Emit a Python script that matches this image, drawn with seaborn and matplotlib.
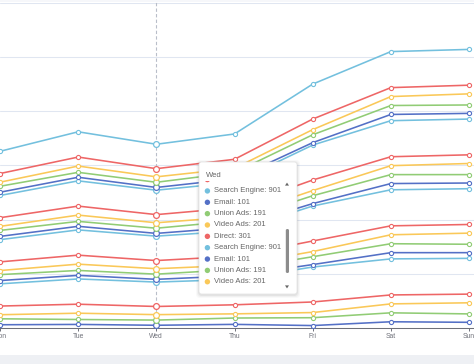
import numpy as np
import pandas as pd
import seaborn as sns
import matplotlib
matplotlib.use("Agg")
import matplotlib.pyplot as plt
from matplotlib.patches import FancyBboxPatch, Rectangle, Circle, Polygon
from matplotlib.transforms import Bbox

# ---------------- data ----------------
days = ["Mon", "Tue", "Wed", "Thu", "Fri", "Sat", "Sun"]
email = [120, 132, 101, 134, 90, 230, 210]
union_ads = [220, 182, 191, 234, 290, 330, 310]
video_ads = [150, 232, 201, 154, 190, 330, 410]
direct = [320, 332, 301, 334, 390, 330, 320]
search_engine = [820, 932, 901, 934, 1290, 1330, 1320]
series_names = ["Email", "Union Ads", "Video Ads", "Direct", "Search Engine"]
series_values = [email, union_ads, video_ads, direct, search_engine]
series_colors = ["#5470c6", "#91cc75", "#fac858", "#ee6666", "#73c0de"]
n_repeats = 4          # the five series appear four times, all stacked
hover_index = 2        # tooltip shown for "Wed"
y_ticks = [0, 2000, 4000, 6000, 8000, 10000, 12000]

# ---------------- figure ----------------
sns.set_theme(style="white")
plt.rcParams["font.family"] = ["Liberation Sans", "DejaVu Sans"]
W, H = 474, 364
fig = plt.figure(figsize=(W / 100, H / 100), dpi=100)
fig.patch.set_facecolor("white")

y_axis_px = 328.0
y_top_px = 2.8
ax = fig.add_axes([0, (H - y_axis_px) / H, 1, (y_axis_px - y_top_px) / H])
ax.set_facecolor("none")
step_px = 78.17
ax.set_xlim(0, W / step_px)
ax.set_ylim(0, 12000)

# stacked series
xs = np.arange(len(days))
cum = np.zeros(len(days))
z = 3
for r in range(n_repeats):
    for name, vals, col in zip(series_names, series_values, series_colors):
        cum = cum + np.array(vals)
        df = pd.DataFrame({"x": xs, "y": cum})
        sns.lineplot(data=df, x="x", y="y", ax=ax, color=col, lw=1.15,
                     marker="o", ms=3.0, mfc="white", mec=col, mew=0.8,
                     zorder=z, clip_on=False)
        # emphasised symbol at hovered category
        ax.plot([xs[hover_index]], [cum[hover_index]], marker="o", ms=4.2,
                mfc="white", mec=col, mew=0.9, zorder=z + 0.5, clip_on=False)
        z += 1

# grid & axis styling
ax.set_yticks(y_ticks)
ax.yaxis.grid(True, color="#E0E6F1", lw=0.75)
ax.xaxis.grid(False)
ax.tick_params(axis="y", left=False, labelleft=False)
ax.set_xticks(xs)
ax.set_xticklabels(days)
ax.tick_params(axis="x", bottom=True, length=2.2, width=0.7, color="#6E7079",
               labelsize=4.9, labelcolor="#6E7079", pad=1.6)
for s in ["left", "right", "top"]:
    ax.spines[s].set_visible(False)
ax.spines["bottom"].set_color("#6E7079")
ax.spines["bottom"].set_linewidth(0.75)
ax.set_xlabel("")
ax.set_ylabel("")
ax.set_axisbelow(True)

# axis pointer
ax.axvline(hover_index, ymin=0, ymax=1.01, color="#B9BEC9", lw=0.8,
           ls=(0, (3, 2)), zorder=1, clip_on=False)

# ---------------- overlay (pixel coordinates) ----------------
ov = fig.add_axes([0, 0, 1, 1], zorder=10)
ov.set_xlim(0, W)
ov.set_ylim(H, 0)
ov.axis("off")
ov.patch.set_alpha(0)

ov.add_patch(Rectangle((0, 354.5), W, 10, color="#eef0f4", lw=0, zorder=1))
ov.add_patch(Rectangle((0, 0), W, 2.0, color="#f6f7fa", lw=0, zorder=1))

# tooltip
bx, by, bw, bh = 199, 162, 98, 132
for i, a in enumerate([0.025, 0.035, 0.05]):
    g = 3 - i
    ov.add_patch(FancyBboxPatch((bx - g, by - g + 1), bw + 2 * g, bh + 2 * g,
                                boxstyle="round,pad=0,rounding_size=4",
                                fc="black", ec="none", alpha=a, zorder=5))
ov.add_patch(FancyBboxPatch((bx, by), bw, bh,
                            boxstyle="round,pad=0,rounding_size=2.5",
                            fc="white", ec="#e2e2e2", lw=0.5, zorder=6))
ov.text(205.5, 175.2, days[hover_index], fontsize=5.5, color="#666666",
        va="center", ha="left", zorder=7)

# scroll viewport of the tooltip list (display pixels, origin bottom-left)
clip_top, clip_bottom = 181.2, 289.7
clip_box = Bbox.from_extents(bx, H - clip_bottom, bx + bw, H - clip_top)

order = [3] + [4, 0, 1, 2, 3] + [4, 0, 1, 2]
y0 = 179.6
dy = 11.35
for k, si in enumerate(order):
    yy = y0 + k * dy
    t = ov.text(214, yy, f"{series_names[si]}: {series_values[si][hover_index]}",
                fontsize=5.5, color="#666666", va="center", ha="left", zorder=7)
    t.set_clip_on(True)
    t.set_clip_box(clip_box)
    t.set_clip_path(None)
    c = Circle((207.4, yy), 2.7, color=series_colors[si], lw=0, zorder=7)
    ov.add_patch(c)
    c.set_clip_path(None)
    c.set_clip_on(True)
    c.set_clip_box(clip_box)

# scroll controls
ov.add_patch(Polygon([(285.0, 185.6), (289.0, 185.6), (287.0, 182.6)],
                     closed=True, fc="#666666", ec="none", zorder=8))
ov.add_patch(Polygon([(285.0, 285.4), (289.0, 285.4), (287.0, 288.4)],
                     closed=True, fc="#666666", ec="none", zorder=8))
ov.add_patch(FancyBboxPatch((285.8, 229.0), 3.2, 44,
                            boxstyle="round,pad=0,rounding_size=1.5",
                            fc="#8c8c8c", ec="none", zorder=8))

fig.savefig("out.png", dpi=100)
